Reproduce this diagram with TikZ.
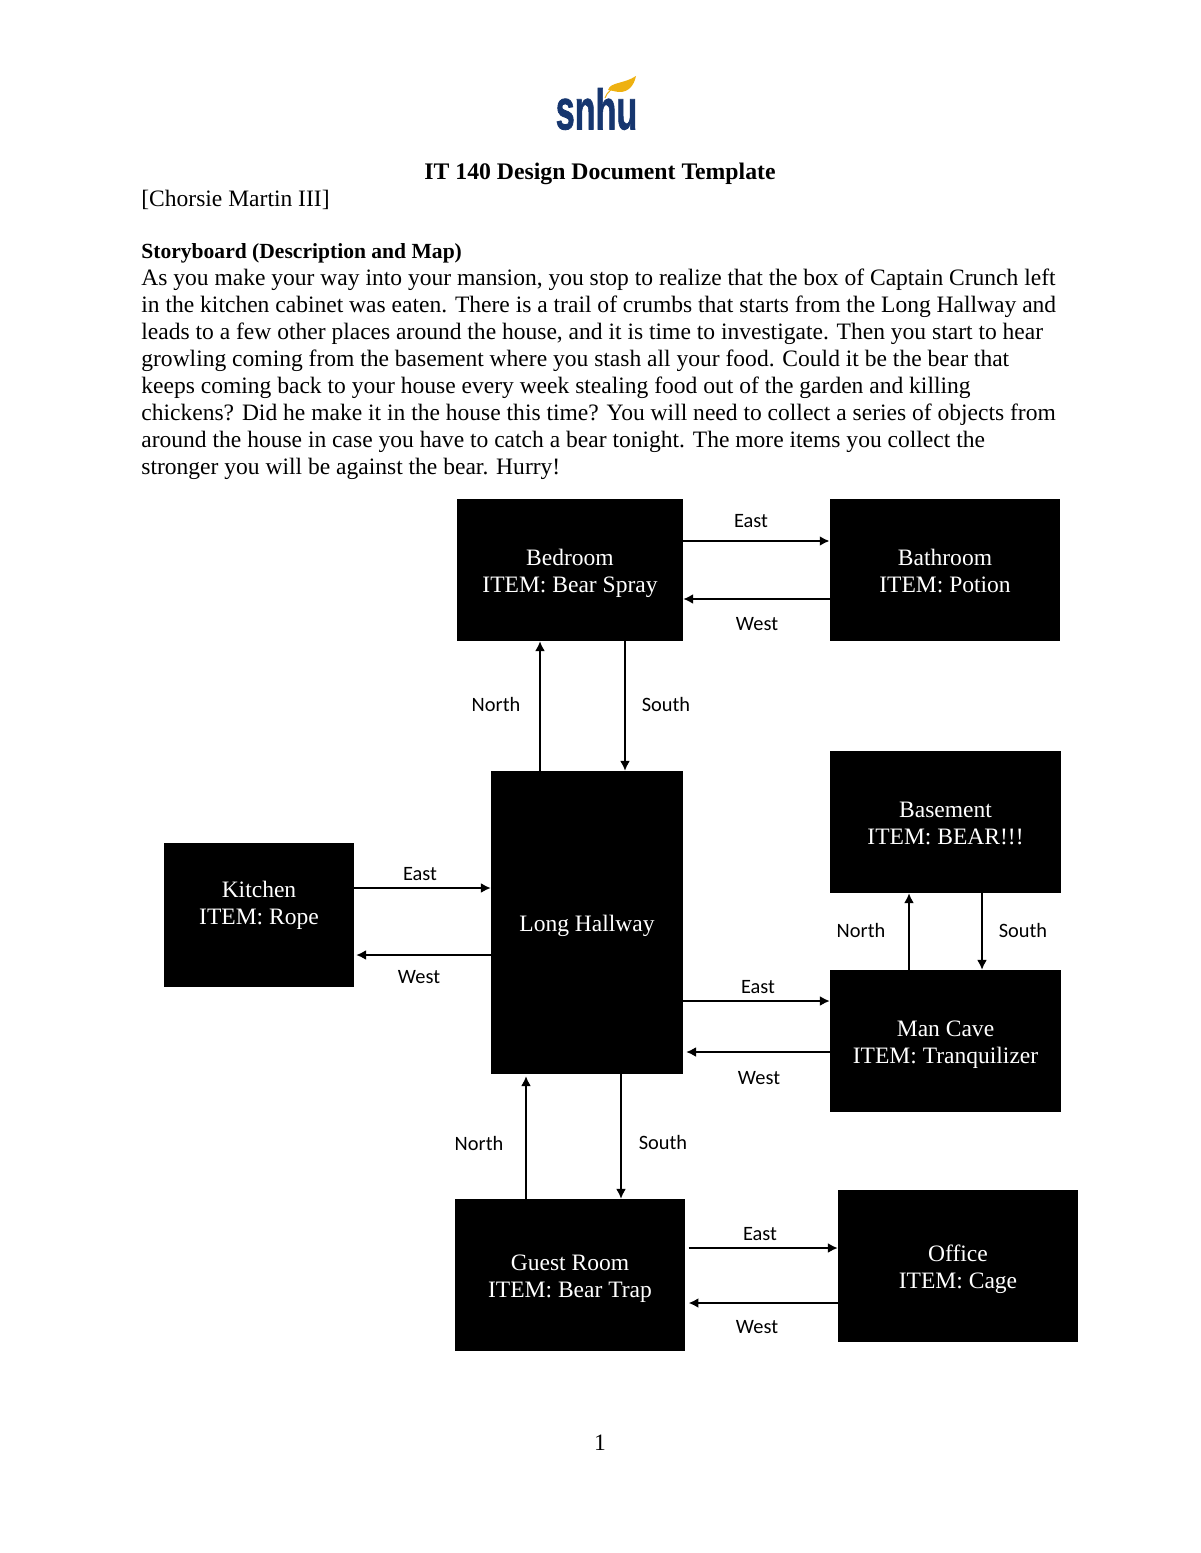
\documentclass[tikz,border=0pt]{standalone}
\usepackage{fontspec}
\setmainfont{Liberation Serif}
\newfontfamily\labelfont{Carlito}
\newfontfamily\logofont[BoldFeatures={FakeBold=1.5}]{Liberation Sans}
\usepackage{xcolor}
\usetikzlibrary{arrows.meta}
\definecolor{snhublue}{HTML}{16366F}
\definecolor{snhugold}{HTML}{EEB111}
\newcommand{\roomtop}{\rule{0pt}{13.5pt}}

\begin{document}
\begin{tikzpicture}[
  x=0.51pt, y=-0.51pt,
  room/.style={rectangle, fill=black, text=white, inner sep=0pt, align=center, font=\fontsize{12}{13.8}\selectfont, execute at end node=\strut},
  arrow/.style={-{Latex[length=5pt,width=5pt]}, line width=0.6pt},
  fat/.style={line width=1.3pt},
  dir/.style={font=\labelfont\fontsize{10.4}{12}\selectfont, inner sep=0pt},
  para/.style={inner sep=0pt, anchor=north west, align=left, font=\fontsize{12}{13.8}\selectfont}
]
  \useasboundingbox (0,0) rectangle (1200,1553);

  % logo
  \node[inner sep=0pt, text=snhublue, xscale=0.6, font=\logofont\bfseries\fontsize{29}{30}\selectfont] (logo) at (596.5,109) {snhu};
  \fill[snhugold] (608,90) .. controls (610,82) and (624,84) .. (636,76) .. controls (634,86) and (628,92) .. (620,92) .. controls (615,92) and (611,90) .. cycle;
  \draw[snhugold, line width=0.5pt] (605,98) .. controls (607,92) and (612,88) .. (622,84);

  % page text
  \node[font=\bfseries\fontsize{12.1}{13.8}\selectfont, inner sep=0pt] (title) at (600,174) {IT 140 Design Document Template};
  \node[para] (author) at (141,190) {[Chorsie Martin III]};
  \node[para, font=\bfseries\fontsize{11}{13.8}\selectfont] (head) at (141,243) {Storyboard (Description and Map)};
  \node[para] (story) at (141,268.5) {As you make your way into your mansion, you stop to realize that the box of Captain Crunch left\\
    in the kitchen cabinet was eaten. There is a trail of crumbs that starts from the Long Hallway and\\
    leads to a few other places around the house, and it is time to investigate. Then you start to hear\\
    growling coming from the basement where you stash all your food. Could it be the bear that\\
    keeps coming back to your house every week stealing food out of the garden and killing\\
    chickens? Did he make it in the house this time? You will need to collect a series of objects from\\
    around the house in case you have to catch a bear tonight. The more items you collect the\\
    stronger you will be against the bear. Hurry!};
  \node[inner sep=0pt, font=\fontsize{12}{13.8}\selectfont] (page) at (600,1443) {1};

  % rooms
  \node[room, minimum width=115.3pt, minimum height=72.4pt] (bedroom) at (570,570) {\roomtop Bedroom\\ITEM: Bear Spray};
  \node[room, minimum width=117.3pt, minimum height=72.4pt] (bathroom) at (945,570) {\roomtop Bathroom\\ITEM: Potion};
  \node[room, minimum width=97.9pt, minimum height=154.5pt] (hallway) at (587,922.5) {\roomtop Long Hallway};
  \node[room, minimum width=96.9pt, minimum height=73.4pt] (kitchen) at (259,915) {\roomtop Kitchen\\ITEM: Rope\\};
  \node[room, minimum width=117.8pt, minimum height=72.4pt] (basement) at (945.5,822) {\roomtop Basement\\ITEM: BEAR!!!};
  \node[room, minimum width=117.8pt, minimum height=72.4pt] (mancave) at (945.5,1041) {\roomtop Man Cave\\ITEM: Tranquilizer};
  \node[room, minimum width=117.5pt, minimum height=77.5pt] (guest) at (570,1275) {\roomtop Guest Room\\ITEM: Bear Trap};
  \node[room, minimum width=122.4pt, minimum height=77.5pt] (office) at (958,1266) {\roomtop Office\\ITEM: Cage};

  % connectors
  \draw[arrow, fat] (bedroom.east |- 0,541) -- (bathroom.west |- 0,541);
  \draw[arrow] (bathroom.west |- 0,599) -- (bedroom.east |- 0,599);
  \draw[arrow] (hallway.north -| 540,0) -- (bedroom.south -| 540,0);
  \draw[arrow] (bedroom.south -| 625,0) -- (hallway.north -| 625,0);
  \draw[arrow] (kitchen.east |- 0,888) -- (hallway.west |- 0,888);
  \draw[arrow, shorten >=1pt] (hallway.west |- 0,955) -- (kitchen.east |- 0,955);
  \draw[arrow] (hallway.east |- 0,1001) -- (mancave.west |- 0,1001);
  \draw[arrow, shorten >=1.5pt] (mancave.west |- 0,1052) -- (hallway.east |- 0,1052);
  \draw[arrow] (mancave.north -| 909,0) -- (basement.south -| 909,0);
  \draw[arrow] (basement.south -| 982,0) -- (mancave.north -| 982,0);
  \draw[arrow, shorten >=1pt] (guest.north -| 526,0) -- (hallway.south -| 526,0);
  \draw[arrow] (hallway.south -| 621,0) -- (guest.north -| 621,0);
  \draw[arrow, shorten <=1.5pt] (guest.east |- 0,1248) -- (office.west |- 0,1248);
  \draw[arrow, fat, shorten >=1.5pt] (office.west |- 0,1303) -- (guest.east |- 0,1303);

  % labels
  \node[dir] (e1) at (751,521) {East};
  \node[dir] (w1) at (757,624) {West};
  \node[dir] (n1) at (496,704) {North};
  \node[dir] (s1) at (666,704) {South};
  \node[dir] (e2) at (420,874) {East};
  \node[dir] (w2) at (419,977) {West};
  \node[dir] (n2) at (861,930) {North};
  \node[dir] (s2) at (1023,930) {South};
  \node[dir] (e3) at (758,987) {East};
  \node[dir] (w3) at (759,1078) {West};
  \node[dir] (n3) at (479,1143) {North};
  \node[dir] (s3) at (663,1142) {South};
  \node[dir] (e4) at (760,1234) {East};
  \node[dir] (w4) at (757,1327) {West};
\end{tikzpicture}
\end{document}
